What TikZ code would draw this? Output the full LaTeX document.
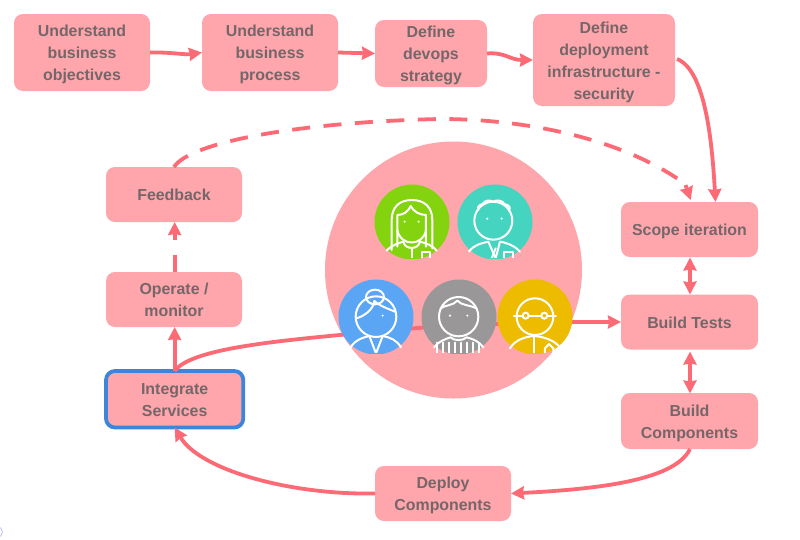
\documentclass[tikz,border=0pt]{standalone}
\usepackage{fontspec}
\setmainfont{Liberation Sans}
\usetikzlibrary{arrows.meta,positioning}
\definecolor{boxfill}{HTML}{FEA6AB}
\definecolor{boxtext}{HTML}{75666A}
\definecolor{linecol}{HTML}{FB6A75}
\definecolor{selblue}{HTML}{3D85D8}
\definecolor{avgreen}{HTML}{84D30F}
\definecolor{avteal}{HTML}{45D4BF}
\definecolor{avblue}{HTML}{5AA6F5}
\definecolor{avgrey}{HTML}{999797}
\definecolor{avyellow}{HTML}{EDBB00}
\tikzset{
  stepbox/.style={rectangle,rounded corners=9pt,fill=boxfill,text=boxtext,align=center,inner sep=0pt,outer sep=0pt,
    font=\fontsize{15.9}{22}\selectfont\bfseries,anchor=north west},
  headtip/.tip={Stealth[length=13pt,width=13pt,inset=1pt]},
  flow/.style={draw=linecol,line width=3.8pt,-headtip},
  flowtwo/.style={draw=linecol,line width=3.8pt,headtip-headtip},
  plainflow/.style={draw=linecol,line width=3.8pt},
  avatar/.style={circle,minimum size=74pt,inner sep=0pt},
  wl/.style={draw=white,line width=2pt,line join=round,line cap=round},
  eye/.style={fill=white,draw=none},
}
\newcommand{\stepnode}[7]{\node[stepbox,minimum width=#4pt,minimum height=#5pt,#6] (#1) at (#2,#3) {\rule{0pt}{15.5pt}#7\rule[-3.4pt]{0pt}{3.4pt}};}
\begin{document}
\begin{tikzpicture}[x=1pt,y=-1pt]
\useasboundingbox (0,0) rectangle (800,539);
\fill[white] (0,0) rectangle (800,539);
\draw[draw=blue!25,line width=.8pt] (-3,532) circle (5.5);

\stepnode{a}{14}{14}{136}{77}{}{Understand\\business\\objectives}
\stepnode{b}{202}{14}{136}{77}{}{Understand\\business\\process}
\stepnode{c}{375}{20}{112}{67}{}{Define\\devops\\strategy}
\stepnode{d}{533}{14}{142}{92}{}{Define\\deployment\\infrastructure -\\security}
\stepnode{scope}{621}{202}{137}{55}{}{Scope iteration}
\stepnode{tests}{621}{294.5}{137}{55}{}{Build Tests}
\stepnode{comp}{621}{393}{137}{56}{}{Build\\Components}
\stepnode{deploy}{375}{466}{136}{55}{}{Deploy\\Components}
\stepnode{integ}{106}{371}{137.3}{56.5}{draw=selblue,line width=3.8pt}{Integrate\\Services}
\stepnode{oper}{106}{272}{136}{55}{}{Operate /\\monitor}
\stepnode{feed}{106}{167}{136}{55}{}{Feedback}

\node[circle,fill=boxfill,minimum size=257pt,inner sep=0pt] (team) at (453.5,270) {};
\node[avatar] (av1) at (412,222) {};
\node[avatar] (av2) at (495,222) {};
\node[avatar] (av3) at (376,317) {};
\node[avatar] (av4) at (459,317) {};
\node[avatar] (av5) at (535,317) {};

% connectors
\draw[flow] (a.east) .. controls (170,52) and (185,55) .. (b.west);
\draw[flow] (b.east) -- (c.west);
\draw[flow] (c.east) .. controls (505,52) and (510,60) .. (d.west |- 0,60);
\draw[flow] (d.east) ++(2,-1) .. controls (705,70) and (712,140) .. (scope.north -| 715.5,0);
\coordinate (dashend) at (678,179);
\coordinate (dashtip) at (690.7,200);
\draw[plainflow,dash pattern=on 18pt off 13.5pt] (feed.north) .. controls (190,142) and (300,122) .. (440,119) .. controls (530,119) and (620,140) .. (dashend);
\draw[flow] (685.5,185) -- (dashtip);
\draw[flowtwo] (690,257.5) -- (690,294.5);
\draw[flowtwo] (690,351.5) -- (690,393.5);
\draw[flow] (comp.south -| 690,0) .. controls (675,480) and (600,489) .. (deploy.east);
\draw[flow] (deploy.west) .. controls (290,495) and (200,470) .. (integ.south);
\draw[flow] (integ.north) -- (integ.north |- oper.south);
\draw[plainflow] (oper.north -| integ.north) -- ++(0,-17) coordinate (opertop);
\coordinate (feeddash) at ([yshift=-18pt]feed.south -| integ.north);
\draw[flow] (feeddash) -- (feed.south -| integ.north);
\coordinate (lineA) at (345,334.5);
\coordinate (lineB) at (417,328);
\coordinate (lineC) at (497,324);
\draw[plainflow] (integ.north) .. controls (190,350) and (265,342) .. (lineA) .. controls (370,332) and (395,330) .. (lineB) .. controls (445,326) and (470,325) .. (lineC) -- ([yshift=-5pt]av5.center);
\draw[flow] ([yshift=-5pt]av5.center) -- (tests.west);

% avatars
\foreach \av/\col in {av1/avgreen,av2/avteal,av3/avblue,av4/avgrey,av5/avyellow}{
  \begin{scope}
    \clip ([xshift=-38pt,yshift=38pt]\av.center) rectangle ([xshift=38pt,yshift=-36pt]\av.center);
    \fill[\col] (\av.center) circle (37.5);
  \end{scope}
}
\begin{scope}[shift={(320,140)},x=.3333pt,y=-.3333pt]
 % green
 \begin{scope}
  \clip (160,130) rectangle (390,354);
  \draw[wl] (215,330) -- (215,240) .. controls (215,200) and (240,180) .. (275,180) .. controls (312,180) and (337,200) .. (337,240) -- (337,325);
  \draw[wl] (232,320) -- (232,225) .. controls (250,225) and (265,215) .. (272,198) .. controls (280,215) and (300,225) .. (318,225) -- (318,320);
  \draw[wl] (232,270) .. controls (240,320) and (310,320) .. (318,270);
  \draw[wl] (200,332) .. controls (215,315) and (235,310) .. (250,305) .. controls (255,330) and (295,330) .. (300,305) .. controls (320,310) and (335,315) .. (350,332);
  \draw[wl] (275,328) -- (275,360);
  \draw[wl] (305,360) -- (305,335) -- (330,335) -- (330,360);
  \fill[eye] (254,245) circle (3.5); \fill[eye] (296,245) circle (3.5);
 \end{scope}
 % teal
 \begin{scope}
  \clip (410,130) rectangle (640,354);
  \draw[wl] (520,242) circle (57);
  \draw[wl] (475,210) .. controls (470,195) and (485,195) .. (490,190) .. controls (495,180) and (510,180) .. (520,185) .. controls (530,178) and (550,182) .. (553,192) .. controls (570,195) and (572,205) .. (567,212);
  \draw[wl] (447,335) .. controls (460,315) and (490,308) .. (505,305) -- (527,355) -- (540,305) .. controls (560,308) and (585,318) .. (600,335);
  \draw[wl] (515,355) -- (527,325);
  \draw[wl] (553,360) -- (553,335) -- (578,335) -- (578,360);
  \fill[eye] (502,236) circle (3.5); \fill[eye] (545,236) circle (3.5);
 \end{scope}
 % blue
 \begin{scope}
  \clip (50,420) rectangle (285,637);
  \draw[wl] (168,530) circle (61);
  \draw[wl] (165,471) ellipse (27 and 22);
  \draw[wl] (108,535) .. controls (130,530) and (160,510) .. (163,483);
  \draw[wl] (163,483) .. controls (175,495) and (200,505) .. (225,515);
  \draw[wl] (92,622) .. controls (105,600) and (130,592) .. (148,588) -- (168,640) -- (188,588) .. controls (210,592) and (230,600) .. (243,622);
  \fill[eye] (188,527) circle (3.5);
 \end{scope}
 % grey
 \begin{scope}
  \clip (300,420) rectangle (530,637);
  \draw[wl] (416,530) circle (59);
  \draw[wl] (362,505) .. controls (375,495) and (400,497) .. (412,482);
  \draw[wl] (412,482) .. controls (425,497) and (450,495) .. (470,505);
  \draw[wl] (342,622) .. controls (355,605) and (375,597) .. (392,592) .. controls (400,603) and (430,603) .. (440,592) .. controls (460,597) and (478,605) .. (490,622);
  \foreach \xx in {352,370,388,406,424,442,460,478}{\draw[wl] (\xx,608) -- (\xx,640);}
  \fill[eye] (390,527) circle (3.5); \fill[eye] (442,527) circle (3.5);
 \end{scope}
 % yellow
 \begin{scope}
  \clip (530,420) rectangle (760,637);
  \draw[wl] (645,530) circle (55);
  \draw[wl] (582,527) -- (708,527);
  \draw[wl,fill=avyellow] (617,527) circle (9);
  \draw[wl,fill=avyellow] (673,527) circle (9);
  \draw[wl] (570,625) .. controls (585,600) and (615,590) .. (642,588) .. controls (670,590) and (705,600) .. (722,625);
  \draw[wl] (642,588) -- (642,640);
  \draw[wl] (675,640) -- (675,625) -- (687,612) -- (700,625) -- (700,640);
 \end{scope}
\end{scope}
\end{tikzpicture}
\end{document}
